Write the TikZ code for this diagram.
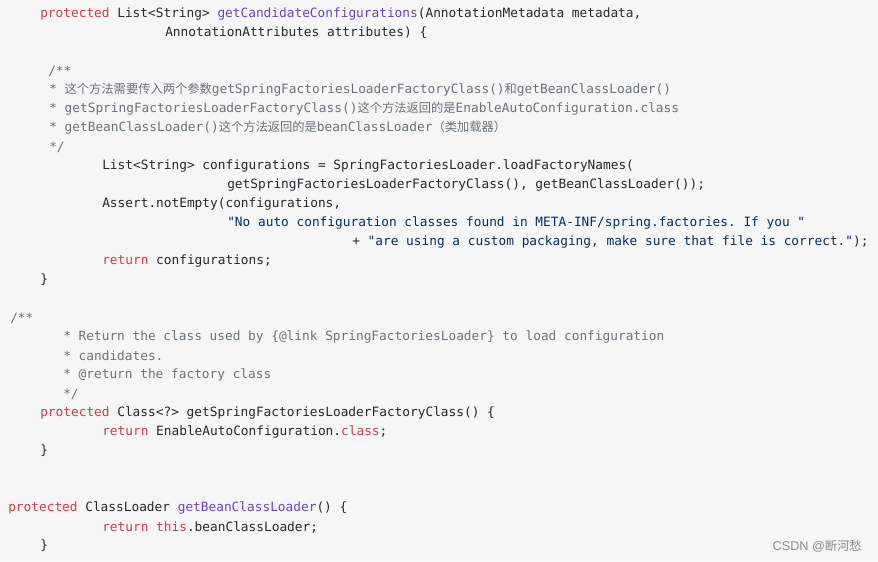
\documentclass[tikz,border=0pt]{standalone}
\usepackage{fontspec}
\setmonofont{DejaVu Sans Mono}
\newfontfamily\cjk{Noto Sans CJK SC}
\newfontfamily\wmfont{Liberation Sans}
\definecolor{bgc}{HTML}{F6F6F6}
\definecolor{kwc}{HTML}{D73A49}
\definecolor{fnc}{HTML}{6F42C1}
\definecolor{stc}{HTML}{032F62}
\definecolor{cmc}{HTML}{6A737D}
\definecolor{txc}{HTML}{24292E}
\newcommand{\kwd}[1]{{\color{kwc}#1}}
\newcommand{\fnm}[1]{{\color{fnc}#1}}
\newcommand{\strg}[1]{{\color{stc}#1}}
\newcommand{\cz}[1]{{\cjk\fontsize{9.2pt}{10pt}\selectfont #1}}
\begin{document}
\begin{tikzpicture}[x=0.75pt,y=-0.75pt,
  ln/.style={anchor=west,inner sep=0pt,font=\ttfamily\fontsize{9.6pt}{11pt}\selectfont,text=txc},
  cmt/.style={ln,text=cmc}]
\fill[bgc] (0,0) rectangle (878,561);
\node[ln] (l1) at (40,14) {\kwd{protected} List<String> \fnm{getCandidateConfigurations}(AnnotationMetadata metadata,};
\node[ln] (l2) at (165,33) {AnnotationAttributes attributes) \{};
\node[cmt] (c1) at (48,71) {/**};
\node[cmt] (c2) at (49,90) {* \cz{这个方法需要传入两个参数}getSpringFactoriesLoaderFactoryClass()\cz{和}getBeanClassLoader()};
\node[cmt] (c3) at (49,109) {* getSpringFactoriesLoaderFactoryClass()\cz{这个方法返回的是}EnableAutoConfiguration.class};
\node[cmt] (c4) at (49,128) {* getBeanClassLoader()\cz{这个方法返回的是}beanClassLoader\cz{（类加载器）}};
\node[cmt] (c5) at (49,147) {*/};
\node[ln] (l3) at (102,166) {List<String> configurations = SpringFactoriesLoader.loadFactoryNames(};
\node[ln] (l4) at (227,185) {getSpringFactoriesLoaderFactoryClass(), getBeanClassLoader());};
\node[ln] (l5) at (102,204) {Assert.notEmpty(configurations,};
\node[ln] (l6) at (227,223) {\strg{"No auto configuration classes found in META-INF/spring.factories. If you "}};
\node[ln] (l7) at (352,242) {+ \strg{"are using a custom packaging, make sure that file is correct."});};
\node[ln] (l8) at (102,261) {\kwd{return} configurations;};
\node[ln] (l9) at (40,280) {\}};
\node[cmt] (d1) at (10,318) {/**};
\node[cmt] (d2) at (63,337) {* Return the class used by \{@link SpringFactoriesLoader\} to load configuration};
\node[cmt] (d3) at (63,356) {* candidates.};
\node[cmt] (d4) at (63,375) {* @return the factory class};
\node[cmt] (d5) at (63,394) {*/};
\node[ln] (m1) at (40,413) {\kwd{protected} Class<?> getSpringFactoriesLoaderFactoryClass() \{};
\node[ln] (m2) at (102,432) {\kwd{return} EnableAutoConfiguration.\kwd{class};};
\node[ln] (m3) at (40,451) {\}};
\node[ln] (n1) at (8,508) {\kwd{protected} ClassLoader \fnm{getBeanClassLoader}() \{};
\node[ln] (n2) at (102,527) {\kwd{return} \kwd{this}.beanClassLoader;};
\node[ln] (n3) at (40,546) {\}};
\node[anchor=east,inner sep=0pt,text=black!45,font=\wmfont\fontsize{9.5pt}{11pt}\selectfont] (wm) at (862,546) {CSDN @\cz{断河愁}};
\end{tikzpicture}
\end{document}
